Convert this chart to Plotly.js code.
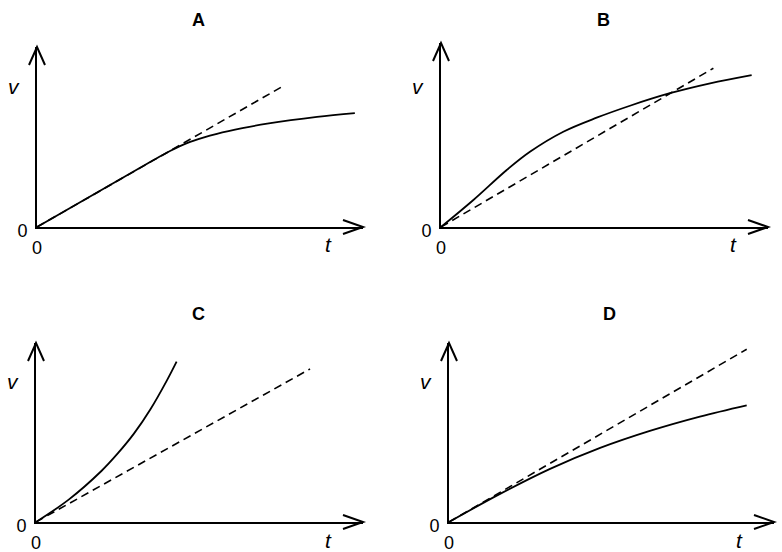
<!DOCTYPE html>
<html>
<head>
<meta charset="utf-8">
<script src="https://cdn.plot.ly/plotly-3.0.1.min.js"></script>
<style>html,body{margin:0;padding:0;background:#fff}</style>
</head>
<body>
<div id="chart" style="width:782px;height:552px"></div>
<script>
// Data (axis span = 0..10 on both axes)
const panelNames = ['A', 'B', 'C', 'D'];

// A: follows the tangent, then bends away below it
const aSolidT = [0, 3.47, 4.08, 4.60, 5.10, 5.52, 6.30, 7.06, 8.59, 9.75];
const aSolidV = [0, 3.61, 4.22, 4.66, 4.97, 5.18, 5.49, 5.74, 6.12, 6.33];
const aDashT = [0, 7.55];
const aDashV = [0, 7.83];

// B: rises above the straight line, crosses it late
const bSolidT = [0, 0.99, 2.01, 2.72, 3.74, 4.76, 5.78, 7.00, 8.23, 9.50];
const bSolidV = [0, 1.47, 3.10, 4.09, 5.18, 5.94, 6.59, 7.27, 7.81, 8.26];
const bDashT = [0, 8.33];
const bDashV = [0, 8.63];

// C: curves upwards
const cSolidT = [0, 1.0, 2.0, 2.5, 3.0, 3.5, 4.0, 4.30];
const cSolidV = [0, 1.25, 2.85, 3.83, 4.95, 6.30, 7.90, 8.96];
const cDashT = [0, 8.38];
const cDashV = [0, 8.55];

// D: falls below the straight line
const dSolidT = [0, 1.57, 3.11, 4.65, 6.18, 7.72, 9.16];
const dSolidV = [0, 1.57, 2.97, 4.14, 5.09, 5.89, 6.52];
const dDashT = [0, 9.16];
const dDashV = [0, 9.65];

const W = 782, H = 552;
// pixel boxes of each pair of axes: [x origin, x tip, y origin, y tip]
const boxes = [
  [37, 363, 227, 47],
  [441, 768, 227, 43],
  [36, 363, 522, 343],
  [449, 774, 522, 343]
];
const titlePos = [[198, 20], [603, 20], [198, 314], [609, 314]];

const solids = [[aSolidT, aSolidV], [bSolidT, bSolidV], [cSolidT, cSolidV], [dSolidT, dSolidV]];
const dashes = [[aDashT, aDashV], [bDashT, bDashV], [cDashT, cDashV], [dDashT, dDashV]];

const px = x => x / W;
const py = y => 1 - y / H;

let data = [];
let layout = {
  width: W, height: H,
  margin: {l: 0, r: 0, t: 0, b: 0},
  paper_bgcolor: '#fff', plot_bgcolor: '#fff',
  showlegend: false,
  font: {family: 'Liberation Sans, Arial, sans-serif', color: '#000'},
  annotations: [],
  shapes: []
};

panelNames.forEach((name, i) => {
  const n = i === 0 ? '' : String(i + 1);
  const xa = 'x' + n, ya = 'y' + n;
  const b = boxes[i];

  data.push({
    x: dashes[i][0], y: dashes[i][1], xaxis: xa, yaxis: ya,
    mode: 'lines', line: {color: '#000', width: 1.6, dash: '8px,5px'},
    hoverinfo: 'skip'
  });
  data.push({
    x: solids[i][0], y: solids[i][1], xaxis: xa, yaxis: ya,
    mode: 'lines', line: {color: '#000', width: 1.8, shape: 'spline', smoothing: 1},
    hoverinfo: 'skip'
  });

  const axisCommon = {
    range: [0, 10], fixedrange: true,
    showgrid: false, zeroline: false,
    showline: true, linecolor: '#000', linewidth: 2,
    ticks: '', tickvals: [0], ticktext: ['0'],
    tickfont: {family: 'Liberation Sans, Arial, sans-serif', size: 18, color: '#000'}
  };
  layout['xaxis' + n] = Object.assign({}, axisCommon, {
    domain: [px(b[0]), px(b[1])], anchor: ya, ticklabelstandoff: 3
  });
  layout['yaxis' + n] = Object.assign({}, axisCommon, {
    domain: [py(b[2]), py(b[3])], anchor: xa, ticklabelstandoff: 4, ticklabelshift: 4
  });

  // open arrowheads at the axis tips (paper refs so they are not clipped)
  layout.shapes.push({
    type: 'path', xref: 'paper', yref: 'paper',
    xsizemode: 'pixel', ysizemode: 'pixel', xanchor: px(b[1]), yanchor: py(b[2]),
    path: 'M -20 7 L 0 0 L -20 -7',
    line: {color: '#000', width: 2}
  });
  layout.shapes.push({
    type: 'path', xref: 'paper', yref: 'paper',
    xsizemode: 'pixel', ysizemode: 'pixel', xanchor: px(b[0]), yanchor: py(b[3]),
    path: 'M -8 -18 L 0 0 L 8 -18',
    line: {color: '#000', width: 2}
  });

  // panel title
  layout.annotations.push({
    text: '<b>' + name + '</b>', xref: 'paper', yref: 'paper',
    x: px(titlePos[i][0]), y: py(titlePos[i][1]),
    xanchor: 'center', yanchor: 'middle', showarrow: false,
    font: {size: 18, color: '#000'}
  });
  // v label
  layout.annotations.push({
    text: '<i>v</i>', xref: 'paper', yref: 'paper',
    x: px(b[0] - 23), y: py(b[2] - 141),
    xanchor: 'center', yanchor: 'middle', showarrow: false,
    font: {size: 21, color: '#000'}
  });
  // t label
  layout.annotations.push({
    text: '<i>t</i>', xref: 'paper', yref: 'paper',
    x: px(b[1] - 35), y: py(b[2] + 18),
    xanchor: 'center', yanchor: 'middle', showarrow: false,
    font: {size: 21, color: '#000'}
  });
});

Plotly.newPlot('chart', data, layout, {displayModeBar: false, staticPlot: true});
</script>
</body>
</html>
